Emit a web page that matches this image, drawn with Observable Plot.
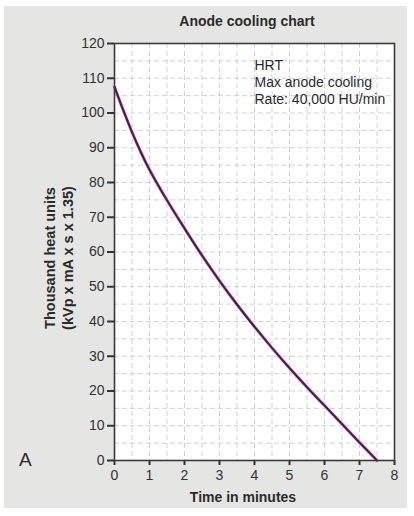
<!DOCTYPE html>
<html>
<head>
<meta charset="utf-8">
<script src="https://cdn.jsdelivr.net/npm/d3@7"></script>
<script src="https://cdn.jsdelivr.net/npm/@observablehq/plot@0.6"></script>
<style>
  html, body { margin: 0; padding: 0; background: #ffffff; }
  body { width: 414px; height: 516px; position: relative; overflow: hidden;
         font-family: "Liberation Sans", Arial, Helvetica, sans-serif; color: #2b2b2b; }
  #panel { position: absolute; left: 4px; top: 6px; width: 403px; height: 502px; background: #e5e5e3; }
  #chart { position: absolute; left: 0; top: 0; }
  .lbl { position: absolute; white-space: nowrap; }
  #title { left: 0; width: 494px; top: 13px; text-align: center; font-weight: bold; font-size: 14px; }
  #xlabel { left: 0; width: 486px; top: 489px; text-align: center; font-weight: bold; font-size: 14px; }
  .ylab { font-weight: bold; font-size: 14.5px; width: 300px; text-align: center; transform: rotate(-90deg); transform-origin: center center; }
  #y1 { left: -100px; top: 250px; }
  #y2 { left: -82px; top: 250px; }
  #letterA { left: 19px; top: 449px; font-size: 19px; }
</style>
</head>
<body>
<div id="panel"></div>
<div id="chart"></div>
<div class="lbl" id="title">Anode cooling chart</div>
<div class="lbl" id="xlabel">Time in minutes</div>
<div class="lbl ylab" id="y1">Thousand heat units</div>
<div class="lbl ylab" id="y2">(kVp x mA x s x 1.35)</div>
<div class="lbl" id="letterA">A</div>
<script>
// Time in minutes
const minutes = [0, 0.25, 0.5, 0.75, 1, 1.5, 2, 2.5, 3, 3.5, 4, 4.5, 5, 5.5, 6, 6.5, 7, 7.5];
// Thousand heat units
const heatUnits = [107.5, 100.8, 94.5, 88.8, 83.7, 74.9, 66.8, 59, 51.7, 44.9, 38.5, 32.4, 26.6, 21.1, 15.8, 10.5, 5.2, 0];
// Axis ticks
const xTicks = [0, 1, 2, 3, 4, 5, 6, 7, 8];
const yTicks = [0, 10, 20, 30, 40, 50, 60, 70, 80, 90, 100, 110, 120];
// Grid lines
const xGrid = [0.5, 1, 1.5, 2, 2.5, 3, 3.5, 4, 4.5, 5, 5.5, 6, 6.5, 7, 7.5];
const yGrid = [5, 10, 15, 20, 25, 30, 35, 40, 45, 50, 55, 60, 65, 70, 75, 80, 85, 90, 95, 100, 105, 110, 115];
// Annotation
const noteLines = ["HRT", "Max anode cooling", "Rate: 40,000 HU/min"];

const data = minutes.map((t, i) => ({t, h: heatUnits[i]}));

const chart = Plot.plot({
  width: 414,
  height: 516,
  marginLeft: 114,
  marginRight: 20,
  marginTop: 43,
  marginBottom: 56,
  style: { background: "transparent", fontFamily: "Liberation Sans, Arial, sans-serif", fontSize: "14px", color: "#333" },
  x: { domain: [0, 8] },
  y: { domain: [0, 120] },
  marks: [
    Plot.frame({ fill: "white", stroke: "none" }),
    Plot.ruleX(xGrid, { stroke: "#b9bfcc", strokeWidth: 1, strokeDasharray: "5,3", strokeOpacity: 0.7 }),
    Plot.ruleY(yGrid, { stroke: "#b9bfcc", strokeWidth: 1, strokeDasharray: "5,3", strokeOpacity: 0.7 }),
    Plot.axisX({ ticks: xTicks, tickSize: 5, tickPadding: 5, label: null, tickFormat: d => d, fontSize: 14, stroke: "#333", strokeWidth: 2 }),
    Plot.axisY({ ticks: yTicks, tickSize: 7, tickPadding: 3, label: null, tickFormat: d => d, fontSize: 14, stroke: "#333", strokeWidth: 2 }),
    Plot.line(data, { x: "t", y: "h", curve: "catmull-rom", stroke: "#eaa2e6", strokeWidth: 3.4 }),
    Plot.line(data, { x: "t", y: "h", curve: "catmull-rom", stroke: "#4a1f48", strokeWidth: 2.2 }),
    Plot.text([noteLines.join("\n")], { x: 4.0, y: 116, text: d => d, textAnchor: "start", lineAnchor: "top", lineHeight: 1.22, fontSize: 14, fill: "#2b2b2b" }),
    Plot.frame({ stroke: "#3a3a3a", strokeWidth: 1.6 })
  ]
});
document.getElementById("chart").appendChild(chart);
</script>
</body>
</html>
